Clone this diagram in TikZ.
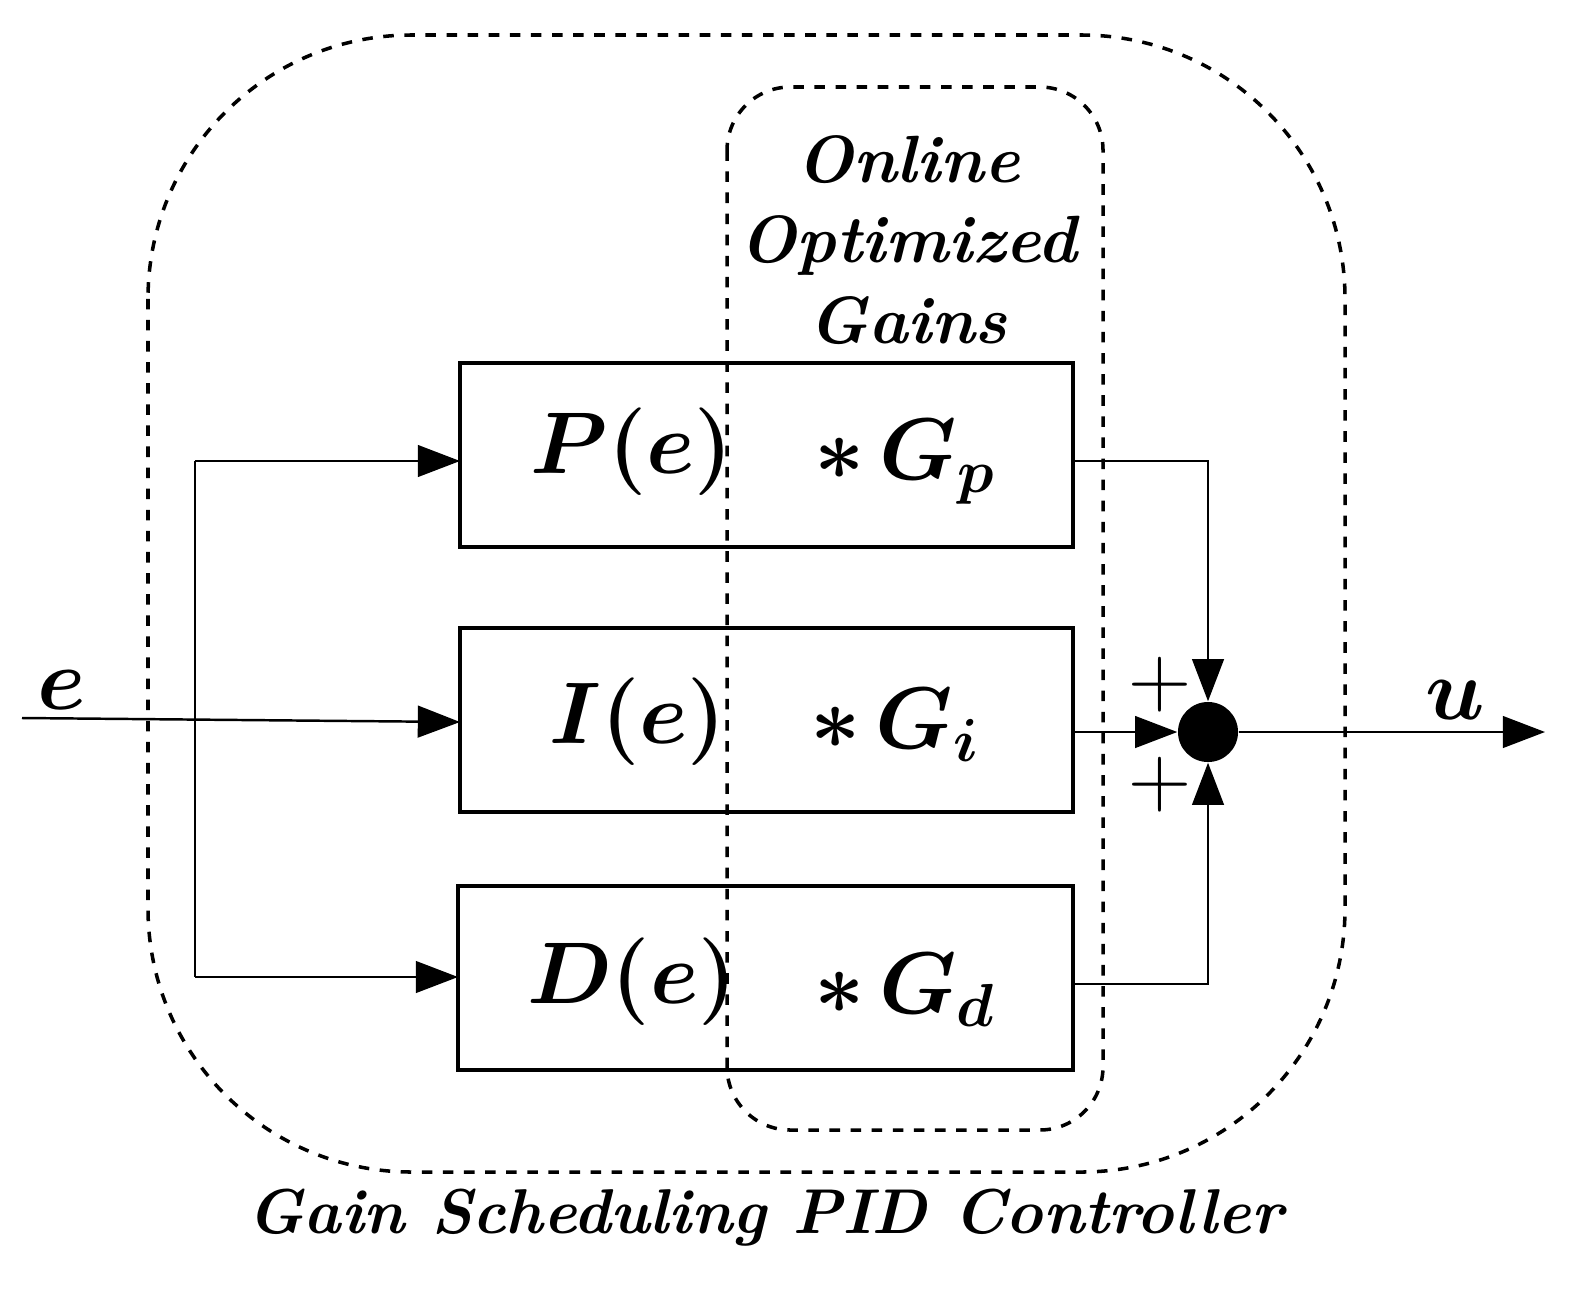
\documentclass[tikz,border=0pt]{standalone}
\usepackage{amsmath,bm}
\usetikzlibrary{arrows.meta}
\begin{document}
\begin{tikzpicture}[x=0.01cm,y=-0.01cm,
  blk/.style={draw,line width=1.4pt},
  dsh/.style={draw,dashed,line width=1pt},
  ln/.style={line width=0.7pt},
  arr/.style={ln,-{Triangle[length=12pt,width=9pt]}},
  big/.style={font=\fontsize{23}{26}\selectfont},
  lab/.style={font=\fontsize{19}{23}\selectfont\bfseries\itshape}]
\useasboundingbox (0,0) rectangle (1592,1291);
\draw[dsh,rounded corners=75pt] (148,35) rectangle (1345,1172);
\draw[dsh,rounded corners=18pt] (727,87) rectangle (1103,1130);
\draw[blk] (460,363) rectangle (1073,547);
\draw[blk] (460,628) rectangle (1073,812);
\draw[blk] (458,886) rectangle (1073,1070);
\coordinate (Pin) at (460,461); \coordinate (Pout) at (1073,461);
\coordinate (Iin) at (460,722); \coordinate (Iout) at (1073,732);
\coordinate (Din) at (458,977); \coordinate (Dout) at (1073,984);
\node[big] (pt) at (632,452) {$\boldsymbol{P(e)}$};
\node[big] (it) at (638,722) {$\boldsymbol{I(e)}$};
\node[big] (dt) at (632,982) {$\boldsymbol{D(e)}$};
\node[big] (gp) at (905,462) {$\boldsymbol{*\,G_p}$};
\node[big] (gi) at (895,725) {$\boldsymbol{*\,G_i}$};
\node[big] (gd) at (905,990) {$\boldsymbol{*\,G_d}$};
\node[lab,align=center] (og) at (908,240) {Online\\Optimized\\Gains};
\node[lab,font=\fontsize{18}{22}\selectfont\bfseries\itshape] (title) at (765,1218) {Gain Scheduling PID Controller};
\node[circle,fill=black,minimum size=0.6cm,inner sep=0] (S) at (1208,732) {};
\coordinate (ein) at (22,718);
\coordinate (ut) at (1545,732);
\draw[arr] (ein) -- (Iin);
\draw[ln] (195,461) -- (195,977);
\draw[arr] (195,461) -- (Pin);
\draw[arr] (195,977) -- (Din);
\draw[arr] (Pout) -| (S.north);
\draw[arr] (Iout) -- (S.west);
\draw[arr] (Dout) -| (S.south);
\draw[arr] (S.east) -- (ut);
\node[big] (el) at (62,690) {$\boldsymbol{e}$};
\node[big] (ul) at (1455,700) {$\boldsymbol{u}$};
\node[font=\fontsize{28}{30}\selectfont] (p1) at (1160,685) {$+$};
\node[font=\fontsize{28}{30}\selectfont] (p2) at (1160,785) {$+$};
\end{tikzpicture}
\end{document}
